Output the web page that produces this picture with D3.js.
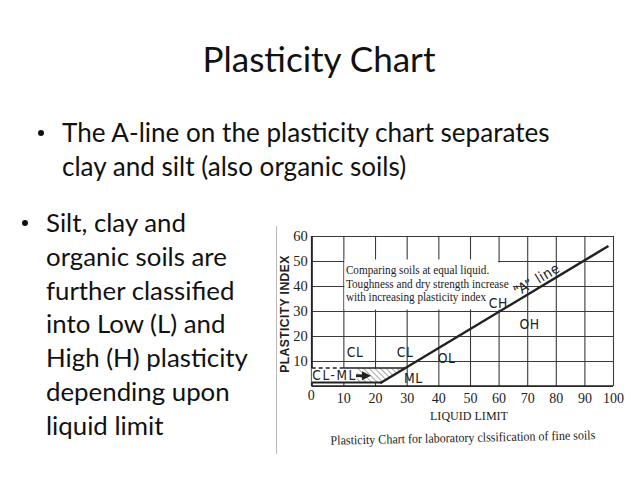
<!DOCTYPE html>
<html>
<head>
<meta charset="utf-8">
<script src="https://cdn.jsdelivr.net/npm/d3@7"></script>
<style>
  html, body { margin: 0; padding: 0; background: #fff; overflow: hidden; }
</style>
</head>
<body>
<svg id="slide" width="638" height="478"></svg>
<script>
/* global d3 */

const TITLE = 'Plasticity Chart';
const TOP_BULLET = ['The A-line on the plasticity chart separates', 'clay and silt (also organic soils)'];
const SIDE_BULLET = ['Silt, clay and', 'organic soils are', 'further classified', 'into Low (L) and',
  'High (H) plasticity', 'depending upon', 'liquid limit'];

const LL_TICKS = [0, 10, 20, 30, 40, 50, 60, 70, 80, 90, 100];
const PI_TICKS = [10, 20, 30, 40, 50, 60];
const PI_GRID = [0, 10, 20, 30, 40, 50, 60];

// "A" line as drawn in the picture (liquid limit, plasticity index)
const A_LINE_LL = [21.6, 98.4];
const A_LINE_PI = [1.1, 56];

// CL-ML band: lower bold line / upper dashed line (plasticity index)
const CLML_PI = [1.4, 7.2];
const CLML_DASH_TO = 10;
const CLML_HATCH_FROM = 14.3;

const ZONE_TEXT = ['CL', 'CL', 'OL', 'ML', 'CH', 'OH'];
const ZONE_LL = [13.7, 29.5, 42.6, 32.1, 59.9, 70.8];
const ZONE_PI = [13.7, 13.7, 11.1, 3.1, 33.1, 24.7];

const NOTE = ['Comparing soils at equal liquid.', 'Toughness and dry strength  increase', 'with increasing plasticity index'];
const X_TITLE = 'LIQUID LIMIT';
const Y_TITLE = 'PLASTICITY INDEX';
const CAPTION = 'Plasticity Chart for laboratory clssification of fine soils';

const SLIDE_FONT = 'Lato, "Open Sans", sans-serif';
const SERIF = '"Liberation Serif", "DejaVu Serif", serif';
const LETTERING = '"DejaVu Sans Condensed", "DejaVu Sans", sans-serif';
const INK = '#222';
const GRID = '#3a3a3a';

const svg = d3.select('#slide');

function maxWidth(sel) {
  let m = 0;
  sel.each(function () { m = Math.max(m, this.getComputedTextLength()); });
  return m;
}

// scale font so the widest line hits the target width
function fitBlock(sel, target) {
  const fs = parseFloat(sel.attr('font-size'));
  sel.attr('font-size', fs * target / maxWidth(sel));
}

// keep the font size, squeeze horizontally (the scanned type is narrow)
function squeeze(sel, target, x0) {
  const s = target / maxWidth(sel);
  sel.attr('transform', `translate(${x0},0) scale(${s},1) translate(${-x0},0)`);
}

function drawSlideText() {
  const title = svg.append('text')
    .attr('x', 319).attr('y', 72)
    .attr('text-anchor', 'middle')
    .attr('font-family', SLIDE_FONT).attr('font-size', 38)
    .attr('fill', '#111')
    .text(TITLE);
  fitBlock(title, 233);

  svg.append('circle').attr('cx', 41).attr('cy', 133).attr('r', 3).attr('fill', '#111');
  const top = svg.selectAll('text.top').data(TOP_BULLET).enter().append('text')
    .attr('class', 'top')
    .attr('x', 62).attr('y', (d, i) => 141.5 + i * 34)
    .attr('font-family', SLIDE_FONT).attr('font-size', 25)
    .attr('fill', '#111')
    .text(d => d);
  fitBlock(top, 488);

  svg.append('circle').attr('cx', 25).attr('cy', 223).attr('r', 3).attr('fill', '#111');
  const side = svg.selectAll('text.side').data(SIDE_BULLET).enter().append('text')
    .attr('class', 'side')
    .attr('x', 46).attr('y', (d, i) => 232 + i * 33.8)
    .attr('font-family', SLIDE_FONT).attr('font-size', 25)
    .attr('fill', '#111')
    .text(d => d);
  fitBlock(side, 202);
}

function drawChart() {
  // the scanned grid is squeezed on the right half
  const x = d3.scaleLinear().domain([0, 50, 100]).range([311.7, 470, 613]);
  const y = d3.scaleLinear().domain([0, 60]).range([386, 236]);
  const w = x(100) - x(0);
  const h = y(0) - y(60);

  // edge of the scanned page
  svg.append('line')
    .attr('x1', 276.5).attr('x2', 276.5).attr('y1', 226).attr('y2', 454)
    .attr('stroke', '#b8b8b8').attr('stroke-width', 1);

  const g = svg.append('g');

  // grid through the axes
  const xAxis = g.append('g')
    .attr('transform', `translate(0,${y(0)})`)
    .call(d3.axisBottom(x).tickValues(LL_TICKS).tickSize(-h).tickPadding(7).tickFormat(d3.format('d')));
  const yAxis = g.append('g')
    .attr('transform', `translate(${x(0)},0)`)
    .call(d3.axisLeft(y).tickValues(PI_GRID).tickSize(-w).tickPadding(4).tickFormat(d => d === 0 ? '' : d));
  [xAxis, yAxis].forEach(a => {
    a.select('.domain').remove();
    a.selectAll('line').attr('stroke', GRID).attr('stroke-width', 1.1);
    a.selectAll('text').attr('font-family', SERIF).attr('fill', INK);
  });
  xAxis.selectAll('text').attr('font-size', 14);
  xAxis.selectAll('.tick').filter(d => d === 0).select('text').attr('dx', -1).attr('dy', '0.5em');
  yAxis.selectAll('text').attr('font-size', 14.5);
  yAxis.selectAll('.tick').filter(d => !PI_TICKS.includes(d)).select('text').remove();

  // frame: left and bottom a bit heavier
  g.append('line').attr('x1', x(0)).attr('x2', x(0)).attr('y1', y(60)).attr('y2', y(0))
    .attr('stroke', INK).attr('stroke-width', 1.6);
  g.append('line').attr('x1', x(0)).attr('x2', x(100)).attr('y1', y(0)).attr('y2', y(0))
    .attr('stroke', INK).attr('stroke-width', 1.6);

  // blank area behind the note
  g.append('rect')
    .attr('x', x(10) + 1).attr('y', y(50) - 1.5)
    .attr('width', x(60) - x(10) - 1.5).attr('height', y(30) - y(50))
    .attr('fill', '#fff');
  g.append('rect')
    .attr('x', x(60) - 1).attr('y', y(50) + 1.5)
    .attr('width', x(65) - x(60) + 1).attr('height', y(30) - y(50) - 3)
    .attr('fill', '#fff');

  const note = g.selectAll('text.note').data(NOTE).enter().append('text')
    .attr('class', 'note')
    .attr('x', x(10.8)).attr('y', (d, i) => y(44.8) + i * 13.6)
    .attr('font-family', SERIF).attr('font-size', 12.6)
    .attr('fill', INK)
    .text(d => d);
  squeeze(note, 163, x(10.8));

  // CL-ML band, drawn in pixel space against the straight "A" line
  const aX = d3.scaleLinear()
    .domain([y(A_LINE_PI[0]), y(A_LINE_PI[1])])
    .range([x(A_LINE_LL[0]), x(A_LINE_LL[1])]);
  const yLo = y(CLML_PI[0]);
  const yHi = y(CLML_PI[1]);
  const poly = d3.line();

  const defs = svg.append('defs');
  const pat = defs.append('pattern')
    .attr('id', 'hatch').attr('patternUnits', 'userSpaceOnUse')
    .attr('width', 4).attr('height', 4)
    .attr('patternTransform', 'rotate(-45)');
  pat.append('line').attr('x1', 0).attr('y1', 0).attr('x2', 0).attr('y2', 4)
    .attr('stroke', '#555').attr('stroke-width', 1);
  defs.append('marker')
    .attr('id', 'arrow').attr('viewBox', '0 0 10 10')
    .attr('refX', 4).attr('refY', 5)
    .attr('markerWidth', 3.4).attr('markerHeight', 3.4)
    .attr('orient', 'auto')
    .append('path').attr('d', 'M0,0L10,5L0,10z').attr('fill', INK);

  g.append('path')
    .attr('d', poly([[x(0), yLo], [aX(yLo), yLo], [aX(yHi), yHi], [x(0), yHi]]) + 'Z')
    .attr('fill', '#fff');
  g.append('path')
    .attr('d', poly([[x(CLML_HATCH_FROM), yLo], [aX(yLo), yLo], [aX(yHi), yHi], [x(CLML_HATCH_FROM), yHi]]) + 'Z')
    .attr('fill', 'url(#hatch)');

  g.append('line')
    .attr('x1', x(0)).attr('x2', aX(yLo)).attr('y1', yLo).attr('y2', yLo)
    .attr('stroke', INK).attr('stroke-width', 2.2);
  g.append('line')
    .attr('x1', x(0)).attr('x2', x(CLML_DASH_TO)).attr('y1', yHi).attr('y2', yHi)
    .attr('stroke', INK).attr('stroke-width', 1.7)
    .attr('stroke-dasharray', '4,3');
  g.append('line')
    .attr('x1', x(CLML_DASH_TO)).attr('x2', aX(yHi)).attr('y1', yHi).attr('y2', yHi)
    .attr('stroke', INK).attr('stroke-width', 1.5);

  g.append('text')
    .attr('x', x(0.2)).attr('y', y(2.4))
    .attr('font-family', LETTERING)
    .attr('font-size', 13.5).attr('fill', INK)
    .attr('letter-spacing', 1.6)
    .text('CL-ML');
  g.append('line')
    .attr('x1', x(14)).attr('x2', x(17))
    .attr('y1', y(4.1)).attr('y2', y(4.1))
    .attr('stroke', INK).attr('stroke-width', 2.8)
    .attr('marker-end', 'url(#arrow)');

  // "A" line
  g.append('line')
    .attr('x1', x(A_LINE_LL[0])).attr('y1', y(A_LINE_PI[0]))
    .attr('x2', x(A_LINE_LL[1])).attr('y2', y(A_LINE_PI[1]))
    .attr('stroke', INK).attr('stroke-width', 2.5);
  const ang = Math.atan2(y(A_LINE_PI[1]) - y(A_LINE_PI[0]), x(A_LINE_LL[1]) - x(A_LINE_LL[0])) * 180 / Math.PI;
  const aLabel = g.append('text')
    .attr('transform', `translate(${x(73.3)},${y(42.6)}) rotate(${ang})`)
    .attr('text-anchor', 'middle').attr('dy', '0.35em')
    .attr('font-family', LETTERING)
    .attr('font-size', 14).attr('fill', INK)
    .attr('letter-spacing', 0.6)
    .text('\u201CA\u201D line');
  fitBlock(aLabel, 51);

  // zone labels
  g.selectAll('text.zone').data(ZONE_TEXT).enter().append('text')
    .attr('class', 'zone')
    .attr('x', (d, i) => x(ZONE_LL[i])).attr('y', (d, i) => y(ZONE_PI[i]))
    .attr('text-anchor', 'middle').attr('dy', '0.36em')
    .attr('font-family', LETTERING)
    .attr('font-size', 13.8).attr('fill', INK)
    .attr('letter-spacing', 0.5)
    .text(d => d);

  // titles
  const yt = svg.append('text')
    .attr('transform', 'translate(288.5,314) rotate(-90)')
    .attr('text-anchor', 'middle')
    .attr('font-family', '"Liberation Sans Narrow", "Liberation Sans", sans-serif').attr('font-weight', 'bold')
    .attr('font-size', 13).attr('fill', INK)
    .attr('letter-spacing', 0.4)
    .text(Y_TITLE);
  fitBlock(yt, 117);

  const xt = svg.append('text')
    .attr('x', 469).attr('y', 419.5)
    .attr('text-anchor', 'middle')
    .attr('font-family', SERIF).attr('font-size', 12.5).attr('fill', INK)
    .text(X_TITLE);
  fitBlock(xt, 78);

  const capG = svg.append('g').attr('transform', 'rotate(-1.2,463,442)');
  const cap = capG.append('text')
    .attr('x', 463).attr('y', 442)
    .attr('text-anchor', 'middle')
    .attr('font-family', SERIF).attr('font-size', 13).attr('fill', INK)
    .text(CAPTION);
  squeeze(cap, 265, 463);
}

drawSlideText();
drawChart();
</script>
</body>
</html>
